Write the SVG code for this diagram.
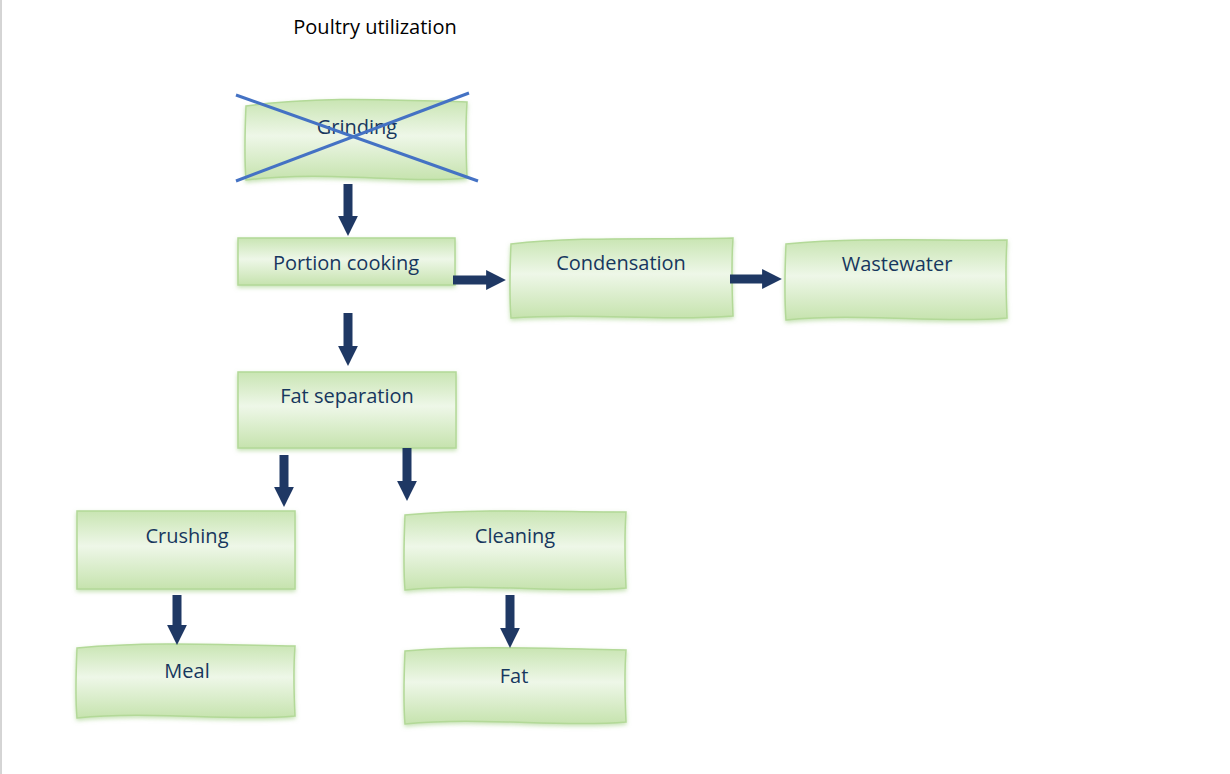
<svg xmlns="http://www.w3.org/2000/svg" width="1230" height="774" viewBox="0 0 1230 774">
<defs>
<linearGradient id="g" x1="0" y1="0" x2="0" y2="1">
<stop offset="0" stop-color="#c9e5b3"/><stop offset="0.45" stop-color="#eef7e8"/><stop offset="1" stop-color="#c6e3ae"/>
</linearGradient>
<filter id="s" x="-10%" y="-10%" width="120%" height="130%"><feDropShadow dx="0" dy="2" stdDeviation="2" flood-color="#9fcf82" flood-opacity="0.6"/></filter>
<marker id="ah" viewBox="0 0 10 10" refX="5" refY="5" markerWidth="2.2" markerHeight="2.2" orient="auto"><path d="M0,0 L10,5 L0,10 z" fill="#1f3864"/></marker>
</defs>
<style>
.b{fill:url(#g);stroke:#b3d998;stroke-width:1.5;filter:url(#s)}
.t{font-family:"Open Sans","Liberation Sans",sans-serif;font-size:20px;fill:#17375e;text-anchor:middle}
.c line{stroke:#1f3864;stroke-width:9;marker-end:url(#ah)}
</style>
<rect x="0" y="0" width="1230" height="774" fill="#fff"/>
<line x1="1" y1="0" x2="1" y2="774" stroke="#aaa"/>
<text x="375" y="34" font-family="'Open Sans','Liberation Sans',sans-serif" font-size="20" fill="#000" text-anchor="middle">Poultry utilization</text>
<g id="grinding"><path class="b" d="M246,106 C320,96 390,100 467,102 C465,130 466,155 467,178 C400,184 330,170 246,180 C244,155 245,130 246,106 Z"/><text class="t" x="357" y="134">Grinding</text></g>
<g id="portion"><rect class="b" x="238" y="238" width="217" height="47"/><text class="t" x="346" y="270">Portion cooking</text></g>
<g id="condensation"><path class="b" d="M511,244 C580,236 660,240 733,238 C731,265 732,292 733,316 C660,322 590,312 511,318 C509,292 510,268 511,244 Z"/><text class="t" x="621" y="270">Condensation</text></g>
<g id="wastewater"><path class="b" d="M786,244 C860,237 940,241 1007,240 C1005,268 1006,294 1007,318 C940,324 860,312 786,320 C784,294 785,268 786,244 Z"/><text class="t" x="897" y="271">Wastewater</text></g>
<g id="fatsep"><rect class="b" x="238" y="372" width="218" height="76"/><text class="t" x="347" y="403">Fat separation</text></g>
<g id="crushing"><rect class="b" x="77" y="511" width="218" height="78"/><text class="t" x="187" y="543">Crushing</text></g>
<g id="cleaning"><path class="b" d="M405,515 C480,508 560,512 626,512 C624,540 625,565 626,588 C560,594 480,582 405,590 C403,565 404,540 405,515 Z"/><text class="t" x="515" y="543">Cleaning</text></g>
<g id="meal"><path class="b" d="M77,648 C150,641 230,645 295,646 C293,672 294,696 295,716 C230,722 150,710 77,718 C75,696 76,672 77,648 Z"/><text class="t" x="187" y="678">Meal</text></g>
<g id="fat"><path class="b" d="M405,651 C480,645 560,649 626,650 C624,676 625,700 626,722 C560,728 480,716 405,724 C403,700 404,676 405,651 Z"/><text class="t" x="514" y="683">Fat</text></g>
<g id="cross" stroke="#4472c4" stroke-width="3"><line x1="236" y1="95" x2="478" y2="181"/><line x1="236" y1="181" x2="469" y2="93"/></g>
<g class="c">
<line x1="348" y1="184" x2="348" y2="226"/>
<line x1="453" y1="280" x2="496" y2="280"/>
<line x1="730" y1="279" x2="772" y2="279"/>
<line x1="348" y1="313" x2="348" y2="356"/>
<line x1="284" y1="455" x2="284" y2="497"/>
<line x1="407" y1="448" x2="407" y2="491"/>
<line x1="177" y1="595" x2="177" y2="635"/>
<line x1="510" y1="595" x2="510" y2="638"/>
</g>
</svg>
